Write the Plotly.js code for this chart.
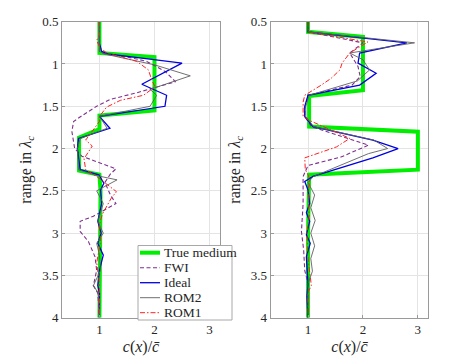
<!DOCTYPE html>
<html>
<head>
<meta charset="utf-8">
<script src="https://cdn.plot.ly/plotly-3.0.1.min.js"></script>
<style>html,body{margin:0;padding:0;background:#fff;}#chart{width:474px;height:358px;}</style>
</head>
<body>
<div id="chart"></div>
<script>
// ---------- Left panel ----------
const leftTrueR  = [0.5, 0.87, 0.92, 1.55, 1.61, 1.77, 1.87, 2.26, 2.31, 2.5, 4.0];
const leftTrueV  = [1, 1, 2, 2, 1, 1, 0.63, 0.63, 1.0, 1.02, 1.0];

const leftFwiR   = [0.5, 0.85, 0.88, 0.93, 0.97, 1.09, 1.21, 1.34, 1.42, 1.5, 1.6, 1.68, 1.8, 2.0, 2.09, 2.24, 2.3, 2.4, 2.55, 2.65, 2.8, 2.86, 2.98, 3.1, 3.28, 3.44, 3.62, 3.71, 4.0];
const leftFwiV   = [1, 1, 1.1, 1.6, 1.86, 2.2, 2.38, 1.68, 1.19, 0.95, 0.71, 0.53, 0.5, 0.55, 0.68, 1.3, 1.2, 1.1, 1.2, 1.3, 0.89, 0.65, 0.65, 0.8, 0.92, 0.95, 0.89, 0.97, 1.0];

const leftIdealR = [0.5, 0.76, 0.85, 0.88, 0.99, 1.24, 1.37, 1.5, 1.62, 1.76, 1.88, 2.0, 2.25, 2.31, 2.41, 2.49, 2.65, 2.86, 3.0, 3.12, 3.26, 3.44, 3.62, 3.71, 4.0];
const leftIdealV = [1, 1, 1.04, 1.15, 2.5, 1.77, 2.22, 2.19, 1.0, 1.19, 0.62, 0.6, 0.65, 0.99, 1.08, 1.02, 1.04, 0.97, 1.03, 0.97, 1.07, 1.0, 0.97, 1.0, 1.0];

const leftRom2R  = [0.5, 0.85, 0.88, 1.01, 1.14, 1.3, 1.37, 1.5, 1.62, 1.76, 1.88, 2.0, 2.25, 2.32, 2.37, 2.5, 2.65, 2.86, 3.0, 3.12, 3.26, 3.44, 3.62, 3.71, 4.0];
const leftRom2V  = [1, 1, 1.08, 2.0, 2.65, 1.92, 2.04, 1.92, 1.0, 1.14, 0.65, 0.6, 0.62, 0.95, 1.32, 0.95, 1.07, 0.97, 1.07, 0.95, 1.0, 1.02, 0.89, 0.98, 1.0];

const leftRom1R  = [0.5, 0.66, 0.72, 0.8, 0.87, 0.97, 1.07, 1.19, 1.27, 1.37, 1.43, 1.51, 1.62, 1.68, 1.9, 1.97, 2.12, 2.25, 2.33, 2.41, 2.51, 2.58, 2.78, 2.9, 3.1, 3.35, 3.6, 3.75, 4.0];
const leftRom1V  = [1, 1, 0.95, 1.0, 1.13, 1.68, 1.89, 1.95, 2.01, 1.8, 1.38, 1.13, 1.0, 1.0, 0.75, 0.87, 0.72, 0.75, 0.95, 1.11, 1.31, 1.22, 1.05, 1.0, 1.02, 0.95, 1.0, 1.0, 1.0];

// ---------- Right panel ----------
const rightTrueR  = [0.5, 0.62, 0.68, 1.31, 1.38, 1.74, 1.8, 2.25, 2.31, 3.0, 4.0];
const rightTrueV  = [1, 1, 2, 2, 1.02, 1.02, 3, 3, 1.02, 1.0, 1.0];

const rightFwiR   = [0.5, 0.62, 0.75, 0.87, 1.03, 1.15, 1.25, 1.37, 1.5, 1.62, 1.74, 1.96, 2.1, 2.2, 2.33, 2.65, 2.98, 3.2, 3.44, 3.6, 4.0];
const rightFwiV   = [1, 1, 2.0, 1.76, 1.91, 1.95, 1.8, 1.0, 0.95, 0.94, 1.06, 2.1, 1.6, 1.0, 0.91, 0.91, 0.88, 0.92, 0.94, 1.0, 1.0];

const rightIdealR = [0.5, 0.62, 0.75, 0.87, 0.99, 1.11, 1.25, 1.37, 1.5, 1.62, 1.74, 1.9, 2.0, 2.11, 2.33, 2.39, 2.49, 2.65, 2.76, 2.86, 3.02, 3.12, 3.28, 3.44, 3.6, 3.75, 4.0];
const rightIdealV = [1, 1, 2.8, 1.94, 1.91, 2.24, 1.94, 1.0, 0.94, 0.94, 1.09, 2.18, 2.64, 2.18, 1.09, 0.94, 1.0, 1.03, 0.97, 1.03, 0.97, 1.04, 0.97, 0.98, 1.0, 0.98, 1.0];

const rightRom2R  = [0.5, 0.62, 0.75, 0.87, 0.95, 1.07, 1.2, 1.37, 1.5, 1.62, 1.74, 1.9, 2.0, 2.06, 2.33, 2.4, 2.55, 2.7, 2.85, 3.0, 3.15, 3.3, 3.45, 3.6, 4.0];
const rightRom2V  = [1, 1, 2.94, 1.76, 2.0, 2.12, 1.9, 1.02, 0.96, 0.96, 1.1, 2.2, 2.45, 2.1, 1.1, 1.0, 1.12, 1.05, 1.13, 1.05, 1.12, 1.05, 1.08, 1.0, 1.0];

const rightRom1R  = [0.5, 0.62, 0.74, 0.87, 0.99, 1.07, 1.17, 1.25, 1.37, 1.45, 1.62, 1.66, 1.88, 1.98, 2.11, 2.25, 2.31, 2.37, 2.5, 2.8, 3.0, 3.3, 3.62, 3.7, 4.0];
const rightRom1V  = [1, 1, 2.09, 1.76, 1.62, 1.58, 1.42, 1.24, 0.94, 0.91, 0.91, 1.0, 1.76, 1.52, 0.94, 0.95, 1.0, 1.03, 1.0, 1.02, 0.98, 1.0, 1.06, 1.0, 1.0];

const seriesNames = ['True medium', 'FWI', 'Ideal', 'ROM2', 'ROM1'];
const xTicks = [1, 2, 3];
const yTicks = [0.5, 1, 1.5, 2, 2.5, 3, 3.5, 4];

const styles = [
  {color: '#00ee00', width: 4, dash: 'solid'},
  {color: '#7E2F8E', width: 1.1, dash: '4px,2.5px'},
  {color: '#0000e0', width: 1.3, dash: 'solid'},
  {color: '#606060', width: 0.9, dash: 'solid'},
  {color: '#ff2020', width: 1.0, dash: '5px,2px,1.5px,2px'}
];

const leftData  = [[leftTrueV, leftTrueR], [leftFwiV, leftFwiR], [leftIdealV, leftIdealR], [leftRom2V, leftRom2R], [leftRom1V, leftRom1R]];
const rightData = [[rightTrueV, rightTrueR], [rightFwiV, rightFwiR], [rightIdealV, rightIdealR], [rightRom2V, rightRom2R], [rightRom1V, rightRom1R]];

const traces = [];
leftData.forEach((d, i) => traces.push({
  x: d[0], y: d[1], type: 'scatter', mode: 'lines', name: seriesNames[i],
  line: styles[i], xaxis: 'x', yaxis: 'y', showlegend: false
}));
rightData.forEach((d, i) => traces.push({
  x: d[0], y: d[1], type: 'scatter', mode: 'lines', name: seriesNames[i],
  line: styles[i], xaxis: 'x2', yaxis: 'y2', showlegend: false
}));

const FAM = 'Liberation Serif';
const TXT = '#262626';

function xax(domain, anchor) {
  return {
    domain: domain, anchor: anchor, range: [0.32, 3.19],
    tickvals: xTicks, ticktext: xTicks.map(String),
    showgrid: true, gridcolor: '#e4e4e4', gridwidth: 1,
    zeroline: false, showline: true, mirror: true, linecolor: '#9a9a9a', linewidth: 1,
    ticks: 'inside', ticklen: 3, tickcolor: '#9a9a9a',
    tickfont: {family: FAM, size: 13, color: TXT},
    title: {text: '<i>c</i>(<i>x</i>)/<i>c̄</i>', font: {family: FAM, size: 16, color: TXT}, standoff: 4}
  };
}
function yax(domain, anchor) {
  return {
    domain: domain, anchor: anchor, range: [4, 0.5],
    tickvals: yTicks, ticktext: yTicks.map(String),
    showgrid: true, gridcolor: '#e4e4e4', gridwidth: 1,
    zeroline: false, showline: true, mirror: true, linecolor: '#9a9a9a', linewidth: 1,
    ticks: 'inside', ticklen: 3, tickcolor: '#9a9a9a',
    tickfont: {family: FAM, size: 13, color: TXT},
    title: {text: 'range in <i>λ</i><sub><i>c</i></sub>', font: {family: FAM, size: 16, color: TXT}, standoff: 6}
  };
}

// ---------- Legend (drawn in the left panel, in pixel positions of the figure) ----------
const W = 474, H = 358;
const px = v => v / W, py = v => 1 - v / H;
const legBox = {x0: 138, x1: 232, y0: 245.5, y1: 320};
const shapes = [{
  type: 'rect', xref: 'paper', yref: 'paper',
  x0: px(legBox.x0), x1: px(legBox.x1), y0: py(legBox.y1), y1: py(legBox.y0),
  fillcolor: '#ffffff', line: {color: '#a8a8a8', width: 1}, layer: 'above'
}];
const annotations = [];
seriesNames.forEach((name, i) => {
  const yc = 252.7 + i * 15;
  shapes.push({
    type: 'line', xref: 'paper', yref: 'paper',
    x0: px(140), x1: px(160), y0: py(yc), y1: py(yc),
    line: {color: styles[i].color, width: styles[i].width, dash: styles[i].dash}, layer: 'above'
  });
  annotations.push({
    xref: 'paper', yref: 'paper', x: px(162), y: py(yc), xanchor: 'left', yanchor: 'middle',
    text: name, showarrow: false, font: {family: FAM, size: 13.5, color: TXT}
  });
});

const layout = {
  width: W, height: H,
  margin: {l: 0, r: 0, t: 0, b: 0},
  paper_bgcolor: '#ffffff', plot_bgcolor: '#ffffff',
  font: {family: FAM, size: 13, color: TXT},
  xaxis: xax([62/W, 220/W], 'y'),
  yaxis: yax([1 - 317.7/H, 1 - 21.7/H], 'x'),
  xaxis2: xax([270.7/W, 428.3/W], 'y2'),
  yaxis2: yax([1 - 317.7/H, 1 - 21.7/H], 'x2'),
  showlegend: false,
  shapes: shapes,
  annotations: annotations
};

Plotly.newPlot('chart', traces, layout, {staticPlot: true, displayModeBar: false});
</script>
</body>
</html>
